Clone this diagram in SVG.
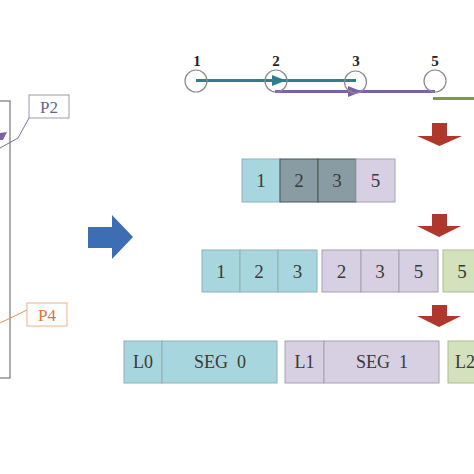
<svg xmlns="http://www.w3.org/2000/svg" width="474" height="474" viewBox="0 0 474 474">
<style>
text{font-family:"Liberation Serif","DejaVu Serif",serif;text-anchor:middle}
.n{font-size:15px;font-weight:bold;fill:#222}
.c{font-size:19px;fill:#3a3a3a}
.s{font-size:18px;fill:#3a3a3a}
.circ{fill:none;stroke:#8a8a8a;stroke-width:1.2}
.bl{fill:#a8d6df;stroke:#8fb0b6;stroke-width:1}
.dk{fill:#8a9ca3;stroke:#4a5558;stroke-width:1}
.lv{fill:#d7cfe2;stroke:#a89fb4;stroke-width:1}
.gr{fill:#d3e1bd;stroke:#aabb95;stroke-width:1}
.red{fill:#b0372c}
</style>
<rect width="474" height="474" fill="#fff"/>
<g id="left-panel">
<rect x="-5" y="101" width="15" height="277" fill="none" stroke="#777" stroke-width="1.2"/>
<path d="M0,133 L7,132 L3,140 L0,140 Z" fill="#7b62a8"/>
</g>
<g id="label-p2">
<polyline points="29,118 18,138 0,148" fill="none" stroke="#7b6fa0" stroke-width="1"/>
<rect x="29" y="95" width="40" height="23" fill="#fff" stroke="#9a9aa8" stroke-width="1"/>
<text x="49" y="113" style="font-size:17px;fill:#6b5f92">P2</text>
</g>
<g id="label-p4">
<line x1="27" y1="310" x2="0" y2="323" stroke="#e0905a" stroke-width="1"/>
<rect x="27" y="303" width="40" height="23" fill="#fff" stroke="#e8b48c" stroke-width="1"/>
<text x="47" y="321" style="font-size:17px;fill:#d8743a">P4</text>
</g>
<g id="big-arrow">
<path d="M88,227 L112,227 L112,215 L133,237 L112,259 L112,248 L88,248 Z" fill="#3d6db3"/>
</g>
<g id="connectors">
<line x1="196" y1="80.5" x2="356" y2="80.5" stroke="#2e7f8e" stroke-width="3"/>
<path d="M272,75 L286,80.5 L272,86 Z" fill="#2e7f8e"/>
<line x1="275" y1="91.5" x2="435" y2="91.5" stroke="#7b62a8" stroke-width="3"/>
<path d="M348,86 L362,91.5 L348,97 Z" fill="#7b62a8"/>
<line x1="433" y1="98.5" x2="474" y2="98.5" stroke="#7f9a45" stroke-width="3"/>
</g>
<g id="node-1"><circle class="circ" cx="196" cy="81" r="11"/><text class="n" x="197" y="66">1</text></g>
<g id="node-2"><circle class="circ" cx="276" cy="81" r="11"/><text class="n" x="276" y="66">2</text></g>
<g id="node-3"><circle class="circ" cx="355.5" cy="82" r="11"/><text class="n" x="356" y="66">3</text></g>
<g id="node-5"><circle class="circ" cx="435" cy="81" r="11"/><text class="n" x="435" y="66">5</text></g>
<g id="red-arrows">
<path class="red" d="M432,123 L447,123 L447,136 L462,136 L439.5,146 L417,136 L432,136 Z"/>
<path class="red" d="M432,214 L447,214 L447,226 L461,226 L439,237 L417,226 L432,226 Z"/>
<path class="red" d="M432,305 L447,305 L447,316 L461,316 L439,327 L417,316 L432,316 Z"/>
</g>
<g id="row1">
<rect class="bl" x="242" y="159" width="38" height="43"/><text class="c" x="261" y="187">1</text>
<rect class="dk" x="280" y="159" width="38" height="43"/><text class="c" x="299" y="187">2</text>
<rect class="dk" x="318" y="159" width="38" height="43"/><text class="c" x="337" y="187">3</text>
<rect class="lv" x="356" y="159" width="39" height="43"/><text class="c" x="375.5" y="187">5</text>
</g>
<g id="row2-a">
<rect class="bl" x="202" y="250" width="38" height="42"/><text class="c" x="221" y="278">1</text>
<rect class="bl" x="240" y="250" width="38" height="42"/><text class="c" x="259" y="278">2</text>
<rect class="bl" x="278" y="250" width="39" height="42"/><text class="c" x="297.5" y="278">3</text>
</g>
<g id="row2-b">
<rect class="lv" x="322" y="250" width="39" height="42"/><text class="c" x="341.5" y="278">2</text>
<rect class="lv" x="361" y="250" width="38" height="42"/><text class="c" x="380" y="278">3</text>
<rect class="lv" x="399" y="250" width="39" height="42"/><text class="c" x="418.5" y="278">5</text>
</g>
<g id="row2-c">
<rect class="gr" x="443" y="250" width="40" height="42"/><text class="c" x="462" y="278">5</text>
</g>
<g id="seg0">
<rect class="bl" x="124" y="341" width="38" height="42"/><text class="s" x="143" y="368">L0</text>
<rect class="bl" x="162" y="341" width="115" height="42"/><text class="s" x="220" y="368" xml:space="preserve">SEG  0</text>
</g>
<g id="seg1">
<rect class="lv" x="285" y="341" width="39" height="42"/><text class="s" x="304.5" y="368">L1</text>
<rect class="lv" x="324" y="341" width="115" height="42"/><text class="s" x="382" y="368" xml:space="preserve">SEG  1</text>
</g>
<g id="seg2">
<rect class="gr" x="448" y="341" width="40" height="42"/><text class="s" x="455" y="368" style="text-anchor:start">L2</text>
</g>
</svg>
